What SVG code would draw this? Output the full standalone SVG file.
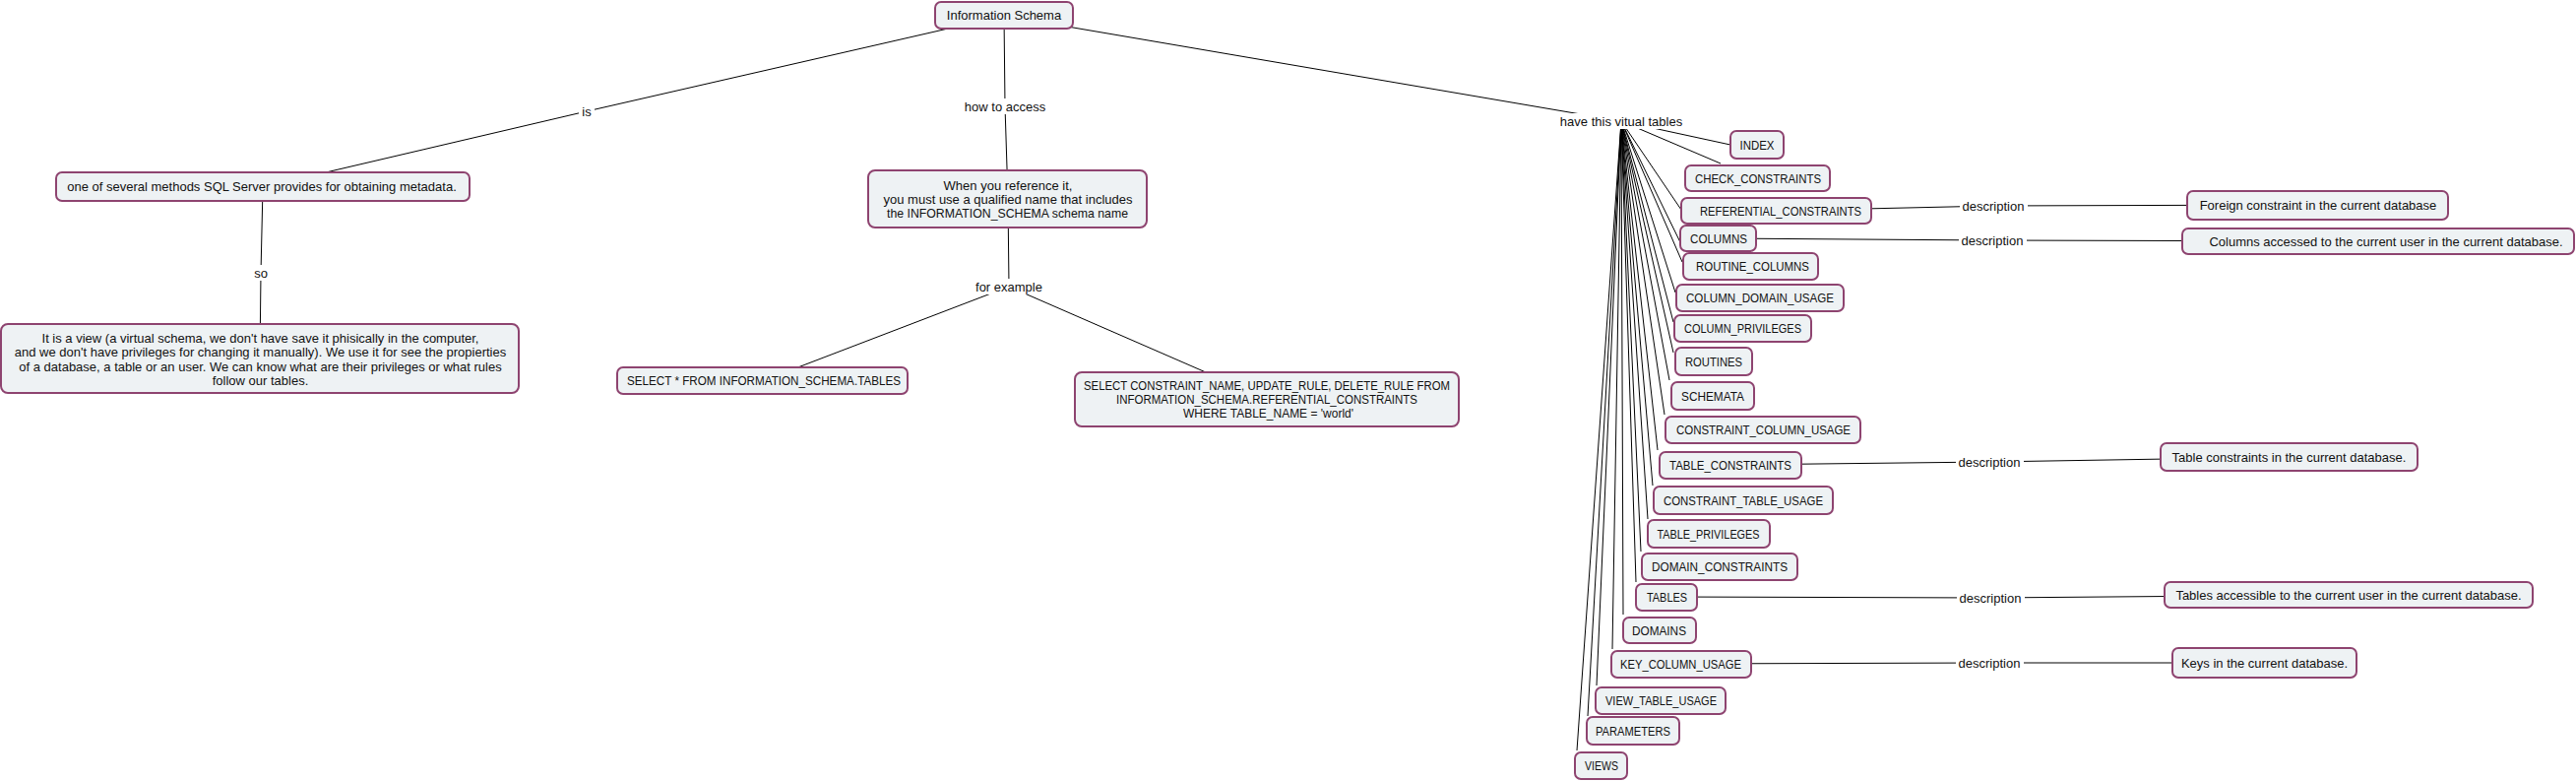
<svg xmlns="http://www.w3.org/2000/svg" width="2617" height="793" viewBox="0 0 2617 793">
<style>
.n rect{fill:#eef2f4;stroke:#8e4470;stroke-width:2}
text{font-family:"Liberation Sans",Arial,sans-serif;font-size:13px;fill:#111;text-anchor:middle}
text.u{font-size:12.5px}
.c path{fill:none;stroke:#000;stroke-width:1}
.lb rect{fill:#fff}
</style>
<rect width="2617" height="793" fill="#fff"/>
<g class="c" id="connectors">
<path d="M1020,16 L596,113 L267,190"/>
<path d="M1020,16 L1021,108 L1024,202"/>
<path d="M1020,16 L1647,123"/>
<path d="M267,190 L265,277 L264,364"/>
<path d="M1024,202 L1025,291 L774,387"/>
<path d="M1025,291 L1287,405"/>
<path d="M1647,123 L1758,147"/>
<path d="M1647,123 L1748,166"/>
<path d="M1647,123 L1708,213"/>
<path d="M1647,123 L1707,246"/>
<path d="M1647,123 L1709,266"/>
<path d="M1647,123 L1702,297"/>
<path d="M1647,123 L1700,327"/>
<path d="M1647,123 L1700,358"/>
<path d="M1647,123 L1696,386"/>
<path d="M1647,123 L1691,421"/>
<path d="M1647,123 L1684,457"/>
<path d="M1647,123 L1679,493"/>
<path d="M1647,123 L1674,527"/>
<path d="M1647,123 L1667,560"/>
<path d="M1647,123 L1662,591"/>
<path d="M1647,123 L1649,624"/>
<path d="M1647,123 L1638,659"/>
<path d="M1647,123 L1622,696"/>
<path d="M1647,123 L1613,727"/>
<path d="M1647,123 L1602,762"/>
<path d="M1804,214 L2025,209 L2354,208"/>
<path d="M1745,242 L2024,244 L2416,245"/>
<path d="M1758,472 L2021,469 L2325,464"/>
<path d="M1693,606 L2022,607 L2386,604"/>
<path d="M1708,674 L2021,673 L2300,673"/>
</g>
<g class="lb" id="labels">
<g id="l-is"><rect x="588" y="105" width="16" height="16"/><text x="596" y="117.5">is</text></g>
<g id="l-how"><rect x="978" y="100" width="86" height="16"/><text x="1021" y="112.5">how to access</text></g>
<g id="l-so"><rect x="256" y="269" width="18" height="16"/><text x="265" y="281.5">so</text></g>
<g id="l-ex"><rect x="988" y="283" width="74" height="16"/><text x="1025" y="295.5">for example</text></g>
<g id="l-have"><rect x="1583" y="115" width="128" height="16"/><text x="1647" y="127.5">have this vitual tables</text></g>
<g id="l-d1"><rect x="1991" y="201" width="69" height="16"/><text x="2025" y="213.5">description</text></g>
<g id="l-d2"><rect x="1990" y="236" width="69" height="16"/><text x="2024" y="248.5">description</text></g>
<g id="l-d3"><rect x="1987" y="461" width="69" height="16"/><text x="2021" y="473.5">description</text></g>
<g id="l-d4"><rect x="1988" y="599" width="69" height="16"/><text x="2022" y="611.5">description</text></g>
<g id="l-d5"><rect x="1987" y="665" width="69" height="16"/><text x="2021" y="677.5">description</text></g>
</g>
<g class="n" id="n-info"><rect x="950" y="2" width="140" height="27" rx="6"/><text x="1020" y="20">Information Schema</text></g>
<g class="n" id="n-one"><rect x="57" y="175" width="420" height="29" rx="6"/><text x="266" y="194">one of several methods SQL Server provides for obtaining metadata.</text></g>
<g class="n" id="n-view"><rect x="1" y="329" width="526" height="70" rx="7"/>
<text x="264.5" y="347.5">It is a view (a virtual schema, we don't have save it phisically in the computer,</text>
<text x="264.5" y="362">and we don't have privileges for changing it manually). We use it for see the propierties</text>
<text x="264.5" y="376.5">of a database, a table or an user. We can know what are their privileges or what rules</text>
<text x="264.5" y="391">follow our tables.</text></g>
<g class="n" id="n-when"><rect x="882" y="173" width="283" height="58" rx="7"/>
<text x="1024" y="192.5">When you reference it,</text>
<text x="1024" y="206.5">you must use a qualified name that includes</text>
<text x="1023.5" y="220.5" textLength="245" lengthAdjust="spacingAndGlyphs">the INFORMATION_SCHEMA schema name</text></g>
<g class="n" id="n-selstar"><rect x="627" y="373" width="295" height="27" rx="6"/><text class="u" x="776" y="391" textLength="278" lengthAdjust="spacingAndGlyphs">SELECT * FROM INFORMATION_SCHEMA.TABLES</text></g>
<g class="n" id="n-selcon"><rect x="1092" y="378" width="390" height="55" rx="7"/>
<text class="u" x="1287" y="395.5" textLength="372" lengthAdjust="spacingAndGlyphs">SELECT CONSTRAINT_NAME, UPDATE_RULE, DELETE_RULE FROM</text>
<text class="u" x="1287" y="409.5" textLength="306" lengthAdjust="spacingAndGlyphs">INFORMATION_SCHEMA.REFERENTIAL_CONSTRAINTS</text>
<text class="u" x="1288.5" y="423.5" textLength="173" lengthAdjust="spacingAndGlyphs">WHERE TABLE_NAME = 'world'</text></g>
<g class="n" id="n-index"><rect x="1758" y="133" width="54" height="28" rx="6"/><text class="u" x="1785" y="151.5" textLength="35" lengthAdjust="spacingAndGlyphs">INDEX</text></g>
<g class="n" id="n-check"><rect x="1712" y="168" width="147" height="26" rx="6"/><text class="u" x="1786" y="185.5" textLength="128" lengthAdjust="spacingAndGlyphs">CHECK_CONSTRAINTS</text></g>
<g class="n" id="n-ref"><rect x="1708" y="201" width="193" height="26" rx="6"/><text class="u" x="1809" y="218.5" textLength="164" lengthAdjust="spacingAndGlyphs">REFERENTIAL_CONSTRAINTS</text></g>
<g class="n" id="n-columns"><rect x="1707" y="229" width="77" height="26" rx="6"/><text class="u" x="1746" y="246.5" textLength="58" lengthAdjust="spacingAndGlyphs">COLUMNS</text></g>
<g class="n" id="n-rcol"><rect x="1710" y="257" width="137" height="27" rx="6"/><text class="u" x="1780.5" y="275" textLength="115" lengthAdjust="spacingAndGlyphs">ROUTINE_COLUMNS</text></g>
<g class="n" id="n-cdu"><rect x="1703" y="289" width="170" height="27" rx="6"/><text class="u" x="1788" y="307" textLength="150" lengthAdjust="spacingAndGlyphs">COLUMN_DOMAIN_USAGE</text></g>
<g class="n" id="n-cpriv"><rect x="1701" y="320" width="139" height="27" rx="6"/><text class="u" x="1770.5" y="338" textLength="119" lengthAdjust="spacingAndGlyphs">COLUMN_PRIVILEGES</text></g>
<g class="n" id="n-routines"><rect x="1702" y="353" width="78" height="28" rx="6"/><text class="u" x="1741" y="371.5" textLength="58" lengthAdjust="spacingAndGlyphs">ROUTINES</text></g>
<g class="n" id="n-schemata"><rect x="1698" y="388" width="84" height="28" rx="6"/><text class="u" x="1740" y="406.5" textLength="64" lengthAdjust="spacingAndGlyphs">SCHEMATA</text></g>
<g class="n" id="n-ccu"><rect x="1692" y="423" width="198" height="27" rx="6"/><text class="u" x="1791.5" y="441" textLength="177" lengthAdjust="spacingAndGlyphs">CONSTRAINT_COLUMN_USAGE</text></g>
<g class="n" id="n-tconst"><rect x="1686" y="459" width="144" height="27" rx="6"/><text class="u" x="1758" y="477" textLength="124" lengthAdjust="spacingAndGlyphs">TABLE_CONSTRAINTS</text></g>
<g class="n" id="n-ctu"><rect x="1680" y="494" width="182" height="28" rx="6"/><text class="u" x="1771" y="512.5" textLength="162" lengthAdjust="spacingAndGlyphs">CONSTRAINT_TABLE_USAGE</text></g>
<g class="n" id="n-tpriv"><rect x="1674" y="528" width="124" height="28" rx="6"/><text class="u" x="1735.5" y="546.5" textLength="104" lengthAdjust="spacingAndGlyphs">TABLE_PRIVILEGES</text></g>
<g class="n" id="n-dconst"><rect x="1668" y="562" width="158" height="27" rx="6"/><text class="u" x="1747" y="580" textLength="138" lengthAdjust="spacingAndGlyphs">DOMAIN_CONSTRAINTS</text></g>
<g class="n" id="n-tables"><rect x="1662" y="593" width="62" height="27" rx="6"/><text class="u" x="1693.5" y="611" textLength="41" lengthAdjust="spacingAndGlyphs">TABLES</text></g>
<g class="n" id="n-domains"><rect x="1649" y="627" width="74" height="26" rx="6"/><text class="u" x="1685.5" y="644.5" textLength="55" lengthAdjust="spacingAndGlyphs">DOMAINS</text></g>
<g class="n" id="n-kcu"><rect x="1637" y="661" width="142" height="27" rx="6"/><text class="u" x="1707.5" y="679" textLength="123" lengthAdjust="spacingAndGlyphs">KEY_COLUMN_USAGE</text></g>
<g class="n" id="n-vtu"><rect x="1621" y="698" width="132" height="27" rx="6"/><text class="u" x="1687.5" y="716" textLength="113" lengthAdjust="spacingAndGlyphs">VIEW_TABLE_USAGE</text></g>
<g class="n" id="n-params"><rect x="1612" y="728" width="94" height="28" rx="6"/><text class="u" x="1659" y="746.5" textLength="76" lengthAdjust="spacingAndGlyphs">PARAMETERS</text></g>
<g class="n" id="n-views"><rect x="1600" y="764" width="53" height="27" rx="6"/><text class="u" x="1627" y="782" textLength="34" lengthAdjust="spacingAndGlyphs">VIEWS</text></g>
<g class="n" id="n-foreign"><rect x="2222" y="194" width="265" height="29" rx="6"/><text x="2355" y="213">Foreign constraint in the current database</text></g>
<g class="n" id="n-colacc"><rect x="2217" y="232" width="398" height="26" rx="6"/><text x="2424" y="249.5">Columns accessed to the current user in the current database.</text></g>
<g class="n" id="n-tcdesc"><rect x="2195" y="450" width="261" height="28" rx="6"/><text x="2325.5" y="468.5">Table constraints in the current database.</text></g>
<g class="n" id="n-tadesc"><rect x="2199" y="591" width="374" height="26" rx="6"/><text x="2386" y="608.5">Tables accessible to the current user in the current database.</text></g>
<g class="n" id="n-keys"><rect x="2207" y="658" width="187" height="30" rx="6"/><text x="2300.5" y="677.5">Keys in the current database.</text></g>
</svg>
